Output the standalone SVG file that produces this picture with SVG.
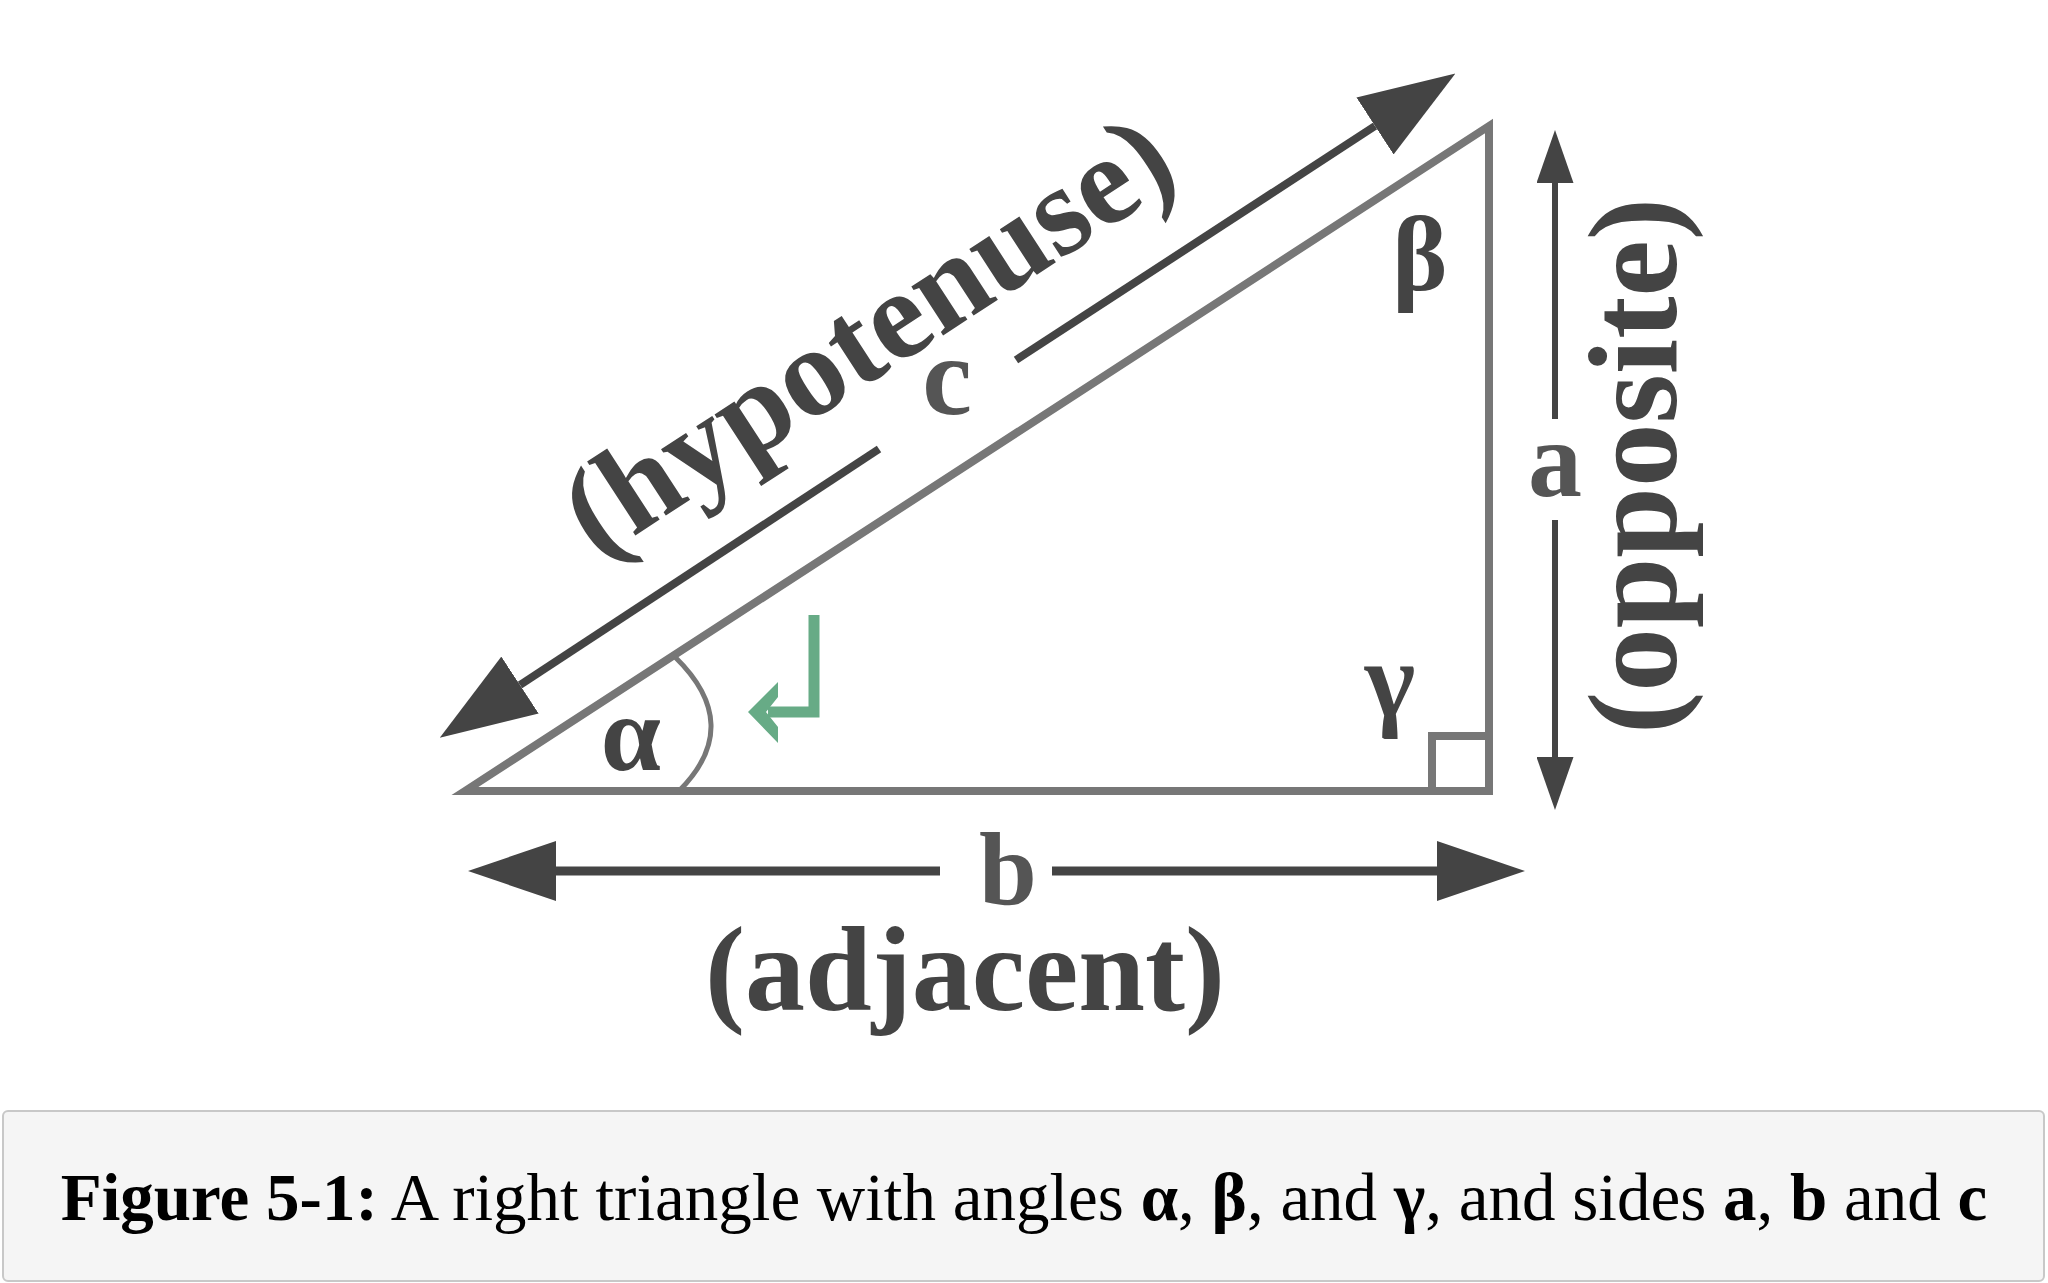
<svg xmlns="http://www.w3.org/2000/svg" width="2048" height="1283" viewBox="0 0 2048 1283">
<style>
.t{font-family:"Liberation Serif","Times New Roman",serif;font-weight:bold;fill:#444444}
.lbl{fill:#555555}
.edge{fill:none;stroke:#777777;stroke-width:8}
.arr{fill:none;stroke:#444444}
</style>
<defs>
<marker id="hypHead" markerUnits="userSpaceOnUse" markerWidth="96" markerHeight="68" refX="0" refY="34" orient="auto"><path d="M0,0 L96,34 L0,68 z" fill="#444444"/></marker>
<marker id="vHead" markerUnits="userSpaceOnUse" markerWidth="53" markerHeight="37" refX="0" refY="18.5" orient="auto"><path d="M0,0 L53,18.5 L0,37 z" fill="#444444"/></marker>
<marker id="hHead" markerUnits="userSpaceOnUse" markerWidth="88" markerHeight="60" refX="0" refY="30" orient="auto"><path d="M0,0 L88,30 L0,60 z" fill="#444444"/></marker>
</defs>
<rect width="2048" height="1283" fill="#ffffff"/>
<g id="triangle">
<path class="edge" d="M465,791 L1489,126 L1489,791 Z" stroke-linejoin="miter" stroke-miterlimit="10"/>
<path class="edge" d="M1432,791 V736 H1489"/>
<path d="M675,657 Q745,725 679,791" fill="none" stroke="#777777" stroke-width="5"/>
</g>
<g id="connectors">
<line class="arr" x1="879" y1="449" x2="520" y2="685" stroke-width="8" marker-end="url(#hypHead)"/>
<line class="arr" x1="1016" y1="360" x2="1375" y2="126" stroke-width="8" marker-end="url(#hypHead)"/>
<line class="arr" x1="1555" y1="419" x2="1555" y2="183" stroke-width="6" marker-end="url(#vHead)"/>
<line class="arr" x1="1555" y1="520" x2="1555" y2="757" stroke-width="6" marker-end="url(#vHead)"/>
<line class="arr" x1="940" y1="871" x2="556" y2="871" stroke-width="9" marker-end="url(#hHead)"/>
<line class="arr" x1="1052" y1="871" x2="1437" y2="871" stroke-width="9" marker-end="url(#hHead)"/>
</g>
<g id="green-arrow">
<path d="M814,615 V712 H768" fill="none" stroke="#67ab86" stroke-width="11" stroke-linejoin="miter"/>
<polygon points="748,712 778,682 778,697 766,712 778,727 778,743" fill="#67ab86"/>
</g>
<g id="hypotenuse-label">
<text class="t" font-size="127" text-anchor="middle" transform="translate(890,370) rotate(-33)">(hypotenuse)</text>
<text class="t lbl" font-size="112" x="947" y="414" text-anchor="middle">c</text>
</g>
<g id="opposite-label">
<text class="t lbl" font-size="108" x="1555" y="496" text-anchor="middle">a</text>
<text class="t" font-size="127" text-anchor="middle" transform="translate(1676,466) rotate(-90)">(opposite)</text>
</g>
<g id="adjacent-label">
<text class="t lbl" font-size="104" x="1008" y="904" text-anchor="middle">b</text>
<text class="t" font-size="120" x="965" y="1010" text-anchor="middle">(adjacent)</text>
</g>
<g id="angles">
<text class="t" font-size="108" x="631" y="770" text-anchor="middle">α</text>
<text class="t" font-size="105" x="1420" y="290" text-anchor="middle">β</text>
<text class="t" font-size="108" x="1390" y="716" text-anchor="middle">γ</text>
</g>
<g id="caption">
<rect x="3" y="1111" width="2041" height="170" rx="5" fill="#f5f5f5" stroke="#c8c8c8" stroke-width="2"/>
<text font-family="'Liberation Serif','Times New Roman',serif" font-size="67" fill="#000000" x="1024" y="1220" text-anchor="middle"><tspan font-weight="bold">Figure 5-1:</tspan> A right triangle with angles <tspan font-weight="bold">α</tspan>, <tspan font-weight="bold">β</tspan>, and <tspan font-weight="bold">γ</tspan>, and sides <tspan font-weight="bold">a</tspan>, <tspan font-weight="bold">b</tspan> and <tspan font-weight="bold">c</tspan></text>
</g>
</svg>
